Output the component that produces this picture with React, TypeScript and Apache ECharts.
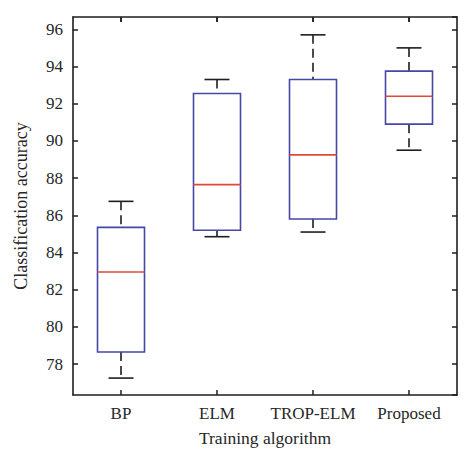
import React, { useEffect, useRef } from "react";
import * as echarts from "echarts";

// Training algorithms compared
const algorithms = ["BP", "ELM", "TROP-ELM", "Proposed"];
// Five-number summaries of classification accuracy (%): min, q1, median, q3, max
const lowerWhisker = [77.25, 84.85, 85.1, 89.5];
const lowerQuartile = [78.65, 85.2, 85.8, 90.9];
const medians = [82.95, 87.65, 89.25, 92.4];
const upperQuartile = [85.35, 92.55, 93.3, 93.75];
const upperWhisker = [86.75, 93.3, 95.7, 95.0];

const FONT = "'Liberation Serif', 'Times New Roman', serif";
const TEXT = "#262626";
const AXIS = "#1e1e1e";

export default function App() {
  const ref = useRef<HTMLDivElement>(null);

  useEffect(() => {
    if (!ref.current) return;
    const chart = echarts.init(ref.current, null, { renderer: "svg" });

    const data = algorithms.map((_, i) => [
      i,
      lowerWhisker[i],
      lowerQuartile[i],
      medians[i],
      upperQuartile[i],
      upperWhisker[i],
    ]);

    const boxHalf = 23.5;
    const capHalf = 12.5;

    const renderBox = (params: any, api: any) => {
      const idx = api.value(0);
      const pMin = api.coord([idx, api.value(1)]);
      const pQ1 = api.coord([idx, api.value(2)]);
      const pMed = api.coord([idx, api.value(3)]);
      const pQ3 = api.coord([idx, api.value(4)]);
      const pMax = api.coord([idx, api.value(5)]);
      const cx = pMed[0];
      const top = params.coordSys.y;
      const whiskerStyle = { stroke: AXIS, lineWidth: 1.6, lineDash: [9, 5] };
      const capStyle = { stroke: AXIS, lineWidth: 1.6 };
      return {
        type: "group",
        children: [
          // inward tick on the top edge of the frame
          {
            type: "line",
            shape: { x1: cx, y1: top, x2: cx, y2: top + 5 },
            style: { stroke: AXIS, lineWidth: 1.6 },
          },
          {
            type: "line",
            shape: { x1: cx, y1: pMax[1], x2: cx, y2: pQ3[1] },
            style: whiskerStyle,
          },
          {
            type: "line",
            shape: { x1: cx, y1: pQ1[1], x2: cx, y2: pMin[1] },
            style: whiskerStyle,
          },
          {
            type: "line",
            shape: { x1: cx - capHalf, y1: pMax[1], x2: cx + capHalf, y2: pMax[1] },
            style: capStyle,
          },
          {
            type: "line",
            shape: { x1: cx - capHalf, y1: pMin[1], x2: cx + capHalf, y2: pMin[1] },
            style: capStyle,
          },
          {
            type: "rect",
            shape: {
              x: cx - boxHalf,
              y: pQ3[1],
              width: boxHalf * 2,
              height: pQ1[1] - pQ3[1],
            },
            style: { fill: "none", stroke: "#4747a6", lineWidth: 1.6 },
          },
          {
            type: "line",
            shape: { x1: cx - boxHalf, y1: pMed[1], x2: cx + boxHalf, y2: pMed[1] },
            style: { stroke: "#e2473a", lineWidth: 1.6 },
          },
        ],
      };
    };

    const yMin = 76.34;
    const yMax = 96.66;

    const yCommon = {
      type: "value" as const,
      min: yMin,
      max: yMax,
      splitNumber: 10,
      minInterval: 2,
      maxInterval: 2,
      splitLine: { show: false },
      axisLine: { show: true, lineStyle: { color: AXIS, width: 1.6 } },
      axisTick: { show: true, inside: true, length: 5, lineStyle: { color: AXIS, width: 1.5 } },
    };

    const catTick = {
      show: true,
      inside: true,
      alignWithLabel: true,
      interval: 0,
      length: 5,
      lineStyle: { color: AXIS, width: 1.5 },
    };

    chart.setOption({
      animation: false,
      backgroundColor: "#ffffff",
      grid: { left: 73, top: 17, right: 17, bottom: 72, containLabel: false },
      xAxis: [
        {
          type: "category",
          data: algorithms,
          position: "bottom",
          axisLine: { show: true, lineStyle: { color: AXIS, width: 1.6 } },
          axisTick: catTick,
          name: "Training algorithm",
          nameLocation: "middle",
          nameGap: 34,
          nameTextStyle: { fontFamily: FONT, fontSize: 17.5, color: TEXT },
          axisLabel: { fontFamily: FONT, fontSize: 17, color: TEXT, margin: 10, interval: 0 },
        },
        {
          type: "category",
          data: algorithms,
          position: "top",
          axisLine: { show: true, lineStyle: { color: AXIS, width: 1.6 } },
          axisTick: catTick,
          axisLabel: { show: false },
        },
      ],
      yAxis: [
        {
          ...yCommon,
          position: "left",
          name: "Classification accuracy",
          nameLocation: "middle",
          nameGap: 43,
          nameTextStyle: { fontFamily: FONT, fontSize: 18, color: TEXT },
          axisLabel: {
            fontFamily: FONT,
            fontSize: 17,
            color: TEXT,
            margin: 10,
            showMinLabel: false,
            showMaxLabel: false,
          },
        },
        {
          ...yCommon,
          position: "right",
          axisLabel: { show: false },
        },
      ],
      series: [
        {
          type: "custom",
          xAxisIndex: 0,
          yAxisIndex: 0,
          renderItem: renderBox,
          data,
          encode: { x: 0, y: [1, 2, 3, 4, 5] },
        },
      ],
    });

    return () => chart.dispose();
  }, []);

  return <div ref={ref} style={{ width: 474, height: 467, margin: -8 }} />;
}
